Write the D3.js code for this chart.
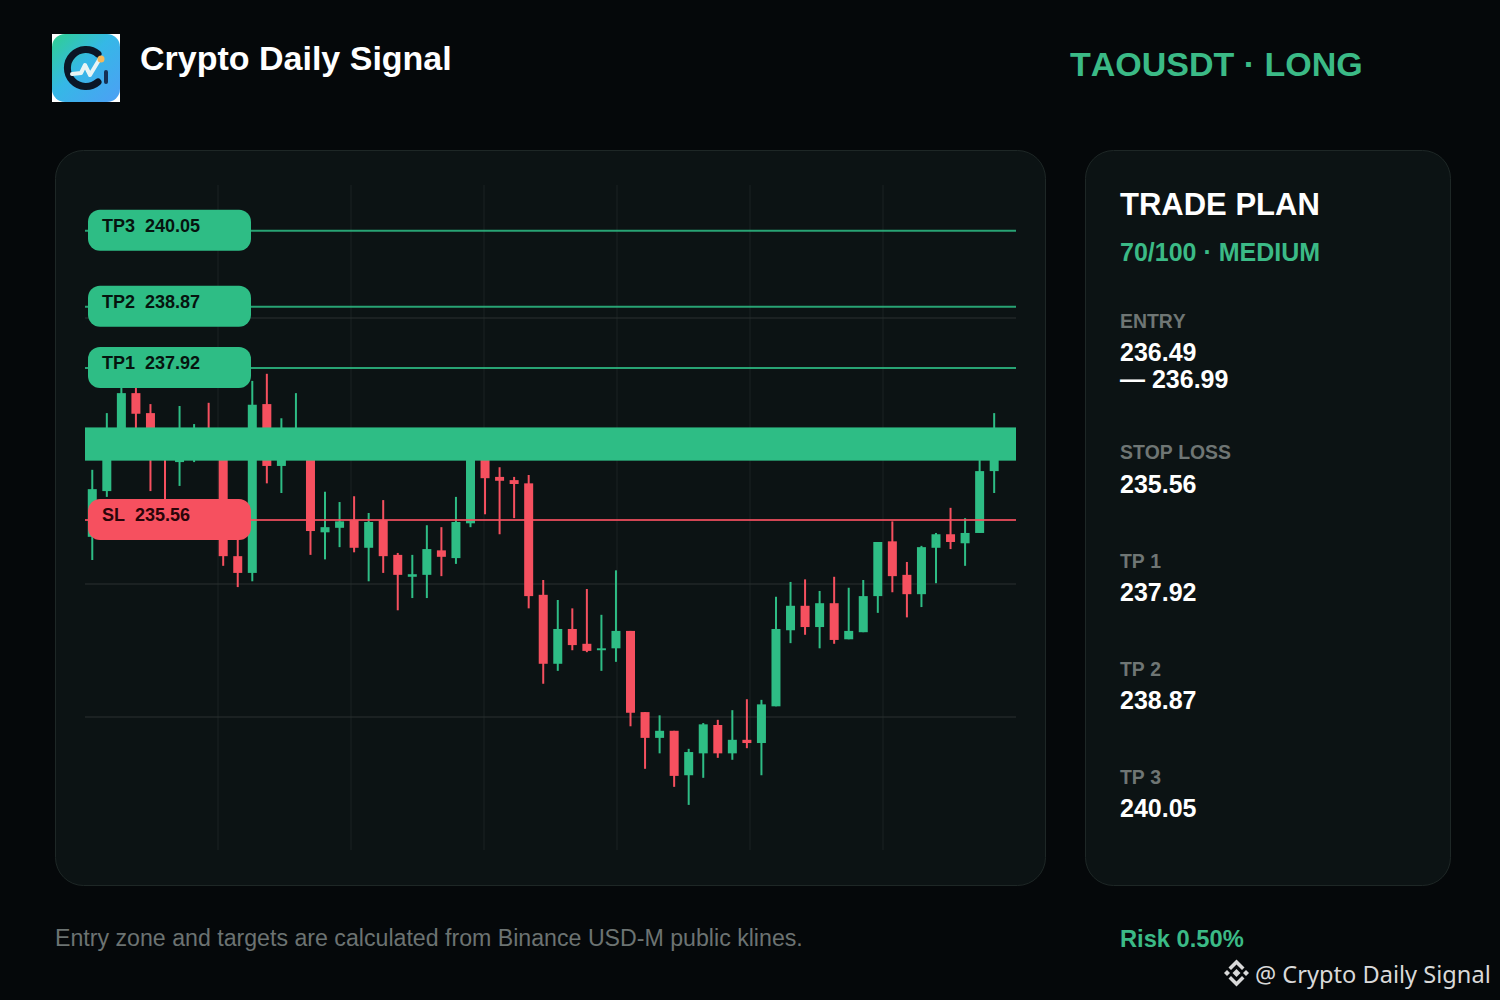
<!DOCTYPE html>
<html>
<head>
<meta charset="utf-8">
<title>Crypto Daily Signal</title>
<script src="https://cdn.jsdelivr.net/npm/d3@7"></script>
<style>
    html, body { margin: 0; padding: 0; background: #05080a; overflow: hidden; }
    text { font-family: "Liberation Sans", Arial, sans-serif; white-space: pre; font-kerning: none; }
</style>
</head>
<body>
<svg id="card" width="1500" height="1000"></svg>
<script>
// candles, oldest first
const opens = [235.30,236.01,236.72,237.53,237.22,236.80,236.46,236.65,236.88,236.72,235.00,234.74,237.36,236.40,236.80,236.72,
    235.37,235.44,235.56,235.13,235.56,235.02,234.68,234.71,235.09,234.97,235.51,236.57,236.23,236.18,236.13,234.40,
    233.33,233.87,233.64,233.54,233.57,233.84,232.58,232.18,232.29,231.60,231.94,232.38,231.94,232.15,232.10,232.67,
    233.85,234.23,233.90,234.27,233.71,233.82,234.38,235.23,234.71,234.41,235.13,235.34,235.20,235.36,236.32];
const highs = [236.34,237.22,237.66,237.61,237.36,236.86,237.33,237.05,237.38,236.83,235.33,237.72,237.83,237.14,237.53,236.80,
    236.00,235.84,235.93,235.67,235.87,235.05,235.02,235.48,235.45,235.92,236.96,236.62,236.38,236.23,236.26,234.63,
    234.32,234.19,234.49,234.09,234.78,233.84,232.58,232.53,232.29,232.01,232.41,232.46,232.61,232.78,232.77,234.37,
    234.60,234.64,234.46,234.68,234.51,234.63,235.22,235.54,234.91,235.16,235.36,235.75,235.59,236.57,237.22];
const lows = [234.94,235.92,236.65,236.96,236.01,235.87,236.09,236.46,236.62,234.85,234.52,234.61,236.13,235.98,236.72,235.02,
    234.95,235.14,235.06,234.61,234.74,234.16,234.35,234.35,234.69,234.88,235.45,235.65,235.34,235.59,234.19,233.02,
    233.22,233.54,233.51,233.22,233.36,232.36,231.70,231.94,231.42,231.14,231.56,231.87,231.84,232.02,231.60,232.67,
    233.65,233.78,233.57,233.64,233.71,233.82,234.12,234.44,234.05,234.21,234.58,235.11,234.85,235.36,235.98];
const closes = [236.04,236.80,237.53,237.21,236.65,236.57,236.80,236.80,236.72,235.00,234.74,237.35,236.40,236.80,236.96,235.39,
    235.45,235.54,235.13,235.53,235.00,234.71,234.72,235.11,234.99,235.53,236.88,236.21,236.17,236.12,234.38,233.33,
    233.87,233.62,233.53,233.57,233.84,232.57,232.18,232.29,231.59,231.96,232.39,231.94,232.15,232.10,232.70,233.87,
    234.23,233.90,234.27,233.70,233.84,234.38,235.22,234.69,234.41,235.14,235.34,235.22,235.36,236.32,236.65];

// trade levels
const entryZone = [236.49, 236.99];
const targetNames = ["TP3", "TP2", "TP1"];
const targetPrices = [240.05, 238.87, 237.92];
const stopName = "SL";
const stopPrice = 235.56;

// right hand panel
const planLabels = ["ENTRY", "STOP LOSS", "TP 1", "TP 2", "TP 3"];
const planValues = [["236.49", "— 236.99"], ["235.56"], ["237.92"], ["238.87"], ["240.05"]];

const GREEN = "#2ebd85";
const RED = "#f6505f";
const TEXT_GREEN = "#3bba86";

const svg = d3.select("#card");

svg.append("rect").attr("width", 1500).attr("height", 1000).attr("fill", "#05080a");

// panels
svg.append("rect").attr("x", 55.5).attr("y", 150.5).attr("width", 990).attr("height", 735).attr("rx", 28)
    .attr("fill", "#0c1314").attr("stroke", "#1e2726");
svg.append("rect").attr("x", 1085.5).attr("y", 150.5).attr("width", 365).attr("height", 735).attr("rx", 28)
    .attr("fill", "#0c1314").attr("stroke", "#1e2726");

// header logo
function drawLogo() {
    const defs = svg.append("defs");
    const grad = defs.append("linearGradient").attr("id", "logoGrad")
        .attr("x1", 0).attr("y1", 0).attr("x2", 1).attr("y2", 1);
    grad.append("stop").attr("offset", "0%").attr("stop-color", "#2fd08f");
    grad.append("stop").attr("offset", "45%").attr("stop-color", "#35b8e6");
    grad.append("stop").attr("offset", "100%").attr("stop-color", "#4d9ff5");

    const logo = svg.append("g").attr("transform", "translate(52,34)");
    logo.append("rect").attr("width", 68).attr("height", 68).attr("fill", "#ffffff");
    logo.append("rect").attr("width", 68).attr("height", 68).attr("rx", 13).attr("fill", "url(#logoGrad)");
    logo.append("path").attr("d", "M46 20 A18.5 18.5 0 1 0 46 48")
        .attr("fill", "none").attr("stroke", "#0b1626").attr("stroke-width", 7).attr("stroke-linecap", "round");
    logo.append("path").attr("d", "M20 40 L29 39 L33 31 L38 41 L47 26")
        .attr("fill", "none").attr("stroke", "#e8f4f4").attr("stroke-width", 4).attr("stroke-linejoin", "round").attr("stroke-linecap", "round");
    logo.append("circle").attr("cx", 49).attr("cy", 25).attr("r", 3.5).attr("fill", "#f5b85a");
    logo.append("rect").attr("x", 52).attr("y", 36).attr("width", 4).attr("height", 14).attr("rx", 2).attr("fill", "#153055");
}
drawLogo();

svg.append("text").attr("x", 140).attr("y", 70).attr("fill", "#ffffff")
    .style("font-size", "34px").style("font-weight", "bold").text("Crypto Daily Signal");
svg.append("text").attr("x", 1070).attr("y", 76).attr("fill", TEXT_GREEN)
    .style("font-size", "34px").style("font-weight", "bold").text("TAOUSDT · LONG");

// scales
const x = d3.scaleLinear().domain([0, 64]).range([85, 1016]);
const y = d3.scaleLinear().domain([230.44, 240.76]).range([850, 185]);

// grid
const chart = svg.append("g");
const xDiv = d3.range(1, 7);
const yDiv = d3.range(1, 5);
chart.selectAll(".vgrid").data(xDiv).enter().append("line")
    .attr("class", "vgrid")
    .attr("x1", d => x(d * 64 / 7)).attr("x2", d => x(d * 64 / 7))
    .attr("y1", y.range()[1]).attr("y2", y.range()[0])
    .attr("stroke", "#1a2322").attr("stroke-width", 1);
chart.selectAll(".hgrid").data(yDiv).enter().append("line")
    .attr("class", "hgrid")
    .attr("x1", x.range()[0]).attr("x2", x.range()[1])
    .attr("y1", d => y.range()[1] + d * (y.range()[0] - y.range()[1]) / 5)
    .attr("y2", d => y.range()[1] + d * (y.range()[0] - y.range()[1]) / 5)
    .attr("stroke", "#2a3130").attr("stroke-width", 1);

// candles
const candles = opens.map((o, i) => ({ i: i, o: o, h: highs[i], l: lows[i], c: closes[i] }));
const bodyWidth = 9;
const candle = chart.selectAll(".candle").data(candles).enter().append("g").attr("class", "candle");
candle.append("line")
    .attr("x1", d => x(d.i + 0.5)).attr("x2", d => x(d.i + 0.5))
    .attr("y1", d => y(d.h)).attr("y2", d => y(d.l))
    .attr("stroke", d => d.c >= d.o ? GREEN : RED).attr("stroke-width", 2);
candle.append("rect")
    .attr("x", d => x(d.i + 0.5) - bodyWidth / 2)
    .attr("y", d => y(Math.max(d.o, d.c)))
    .attr("width", bodyWidth)
    .attr("height", d => Math.max(1, Math.abs(y(d.o) - y(d.c))))
    .attr("fill", d => d.c >= d.o ? GREEN : RED);

// entry band
chart.append("rect")
    .attr("x", x.range()[0]).attr("width", x.range()[1] - x.range()[0])
    .attr("y", y(entryZone[1]) - 0.5).attr("height", y(entryZone[0]) - y(entryZone[1]) + 1)
    .attr("fill", GREEN);

// level lines + labels
function drawLevel(name, price, color, textColor) {
    chart.append("line")
        .attr("x1", x.range()[0]).attr("x2", x.range()[1])
        .attr("y1", y(price)).attr("y2", y(price))
        .attr("stroke", color).attr("stroke-width", 2).attr("stroke-opacity", 0.85);
    chart.append("rect")
        .attr("x", 88).attr("y", y(price) - 21).attr("width", 163).attr("height", 41).attr("rx", 12)
        .attr("fill", color);
    chart.append("text")
        .attr("x", 102).attr("y", y(price) + 1)
        .attr("fill", textColor)
        .style("font-size", "18px").style("font-weight", "bold")
        .text(name + "  " + price.toFixed(2));
}
targetNames.forEach((name, i) => drawLevel(name, targetPrices[i], GREEN, "#06140f"));
drawLevel(stopName, stopPrice, RED, "#2a0509");

// trade plan
svg.append("text").attr("x", 1120).attr("y", 215).attr("fill", "#ffffff")
    .style("font-size", "31px").style("font-weight", "bold").text("TRADE PLAN");
svg.append("text").attr("x", 1120).attr("y", 261).attr("fill", TEXT_GREEN)
    .style("font-size", "25px").style("font-weight", "bold").text("70/100 · MEDIUM");

const labelBase = [328, 459, 568, 676, 784];
const valueBase = [361, 493, 601, 709, 817];
planLabels.forEach((label, i) => {
    svg.append("text").attr("x", 1120).attr("y", labelBase[i]).attr("fill", "#6f7674")
        .style("font-size", "19.4px").style("font-weight", "bold").text(label);
    planValues[i].forEach((val, j) => {
        svg.append("text").attr("x", 1120).attr("y", valueBase[i] + j * 27).attr("fill", "#ffffff")
            .style("font-size", "25px").style("font-weight", "bold").text(val);
    });
});

// footer
svg.append("text").attr("x", 55).attr("y", 946).attr("fill", "#6c7372")
    .style("font-size", "23.16px").text("Entry zone and targets are calculated from Binance USD-M public klines.");
svg.append("text").attr("x", 1120).attr("y", 947).attr("fill", TEXT_GREEN)
    .style("font-size", "23.7px").style("font-weight", "bold").text("Risk 0.50%");

// watermark
const mark = svg.append("g").attr("transform", "translate(1236.5,973)").attr("fill", "#d9d9d9");
mark.append("path").attr("d", "M0 -4 L4 0 L0 4 L-4 0 Z");
mark.append("path").attr("d", "M-9.5 -3 L-6.5 0 L-9.5 3 L-12.5 0 Z");
mark.append("path").attr("d", "M9.5 -3 L12.5 0 L9.5 3 L6.5 0 Z");
mark.append("path").attr("d", "M0 -13.5 L8 -5.5 L5.5 -3 L0 -8.5 L-5.5 -3 L-8 -5.5 Z");
mark.append("path").attr("d", "M0 13.5 L8 5.5 L5.5 3 L0 8.5 L-5.5 3 L-8 5.5 Z");
svg.append("text").attr("x", 1255).attr("y", 983).attr("fill", "#d9d9d9")
    .style("font-family", "'Noto Sans'").style("font-size", "23.6px").text("@ Crypto Daily Signal");
</script>
</body>
</html>
